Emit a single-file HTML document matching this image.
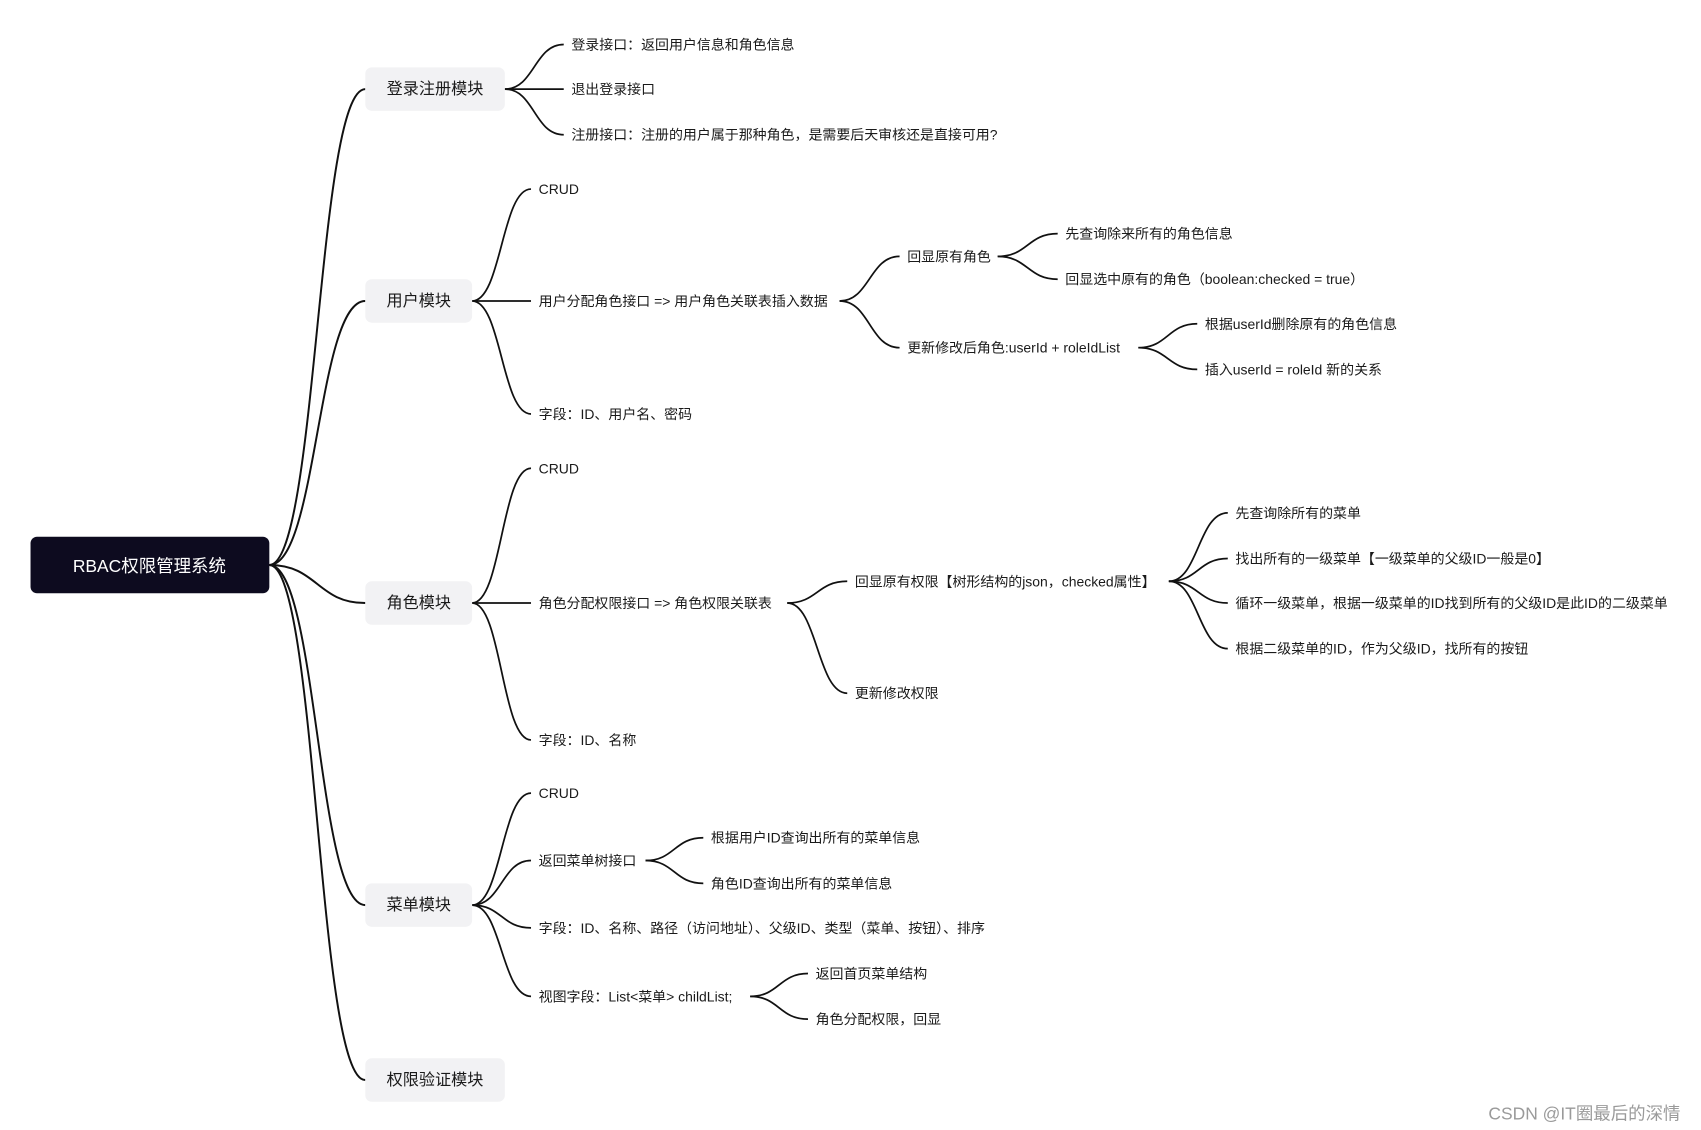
<!DOCTYPE html>
<html><head><meta charset="utf-8"><style>
html,body{margin:0;padding:0;background:#fff;}
svg{display:block;}
text{font-family:"Liberation Sans","Noto Sans CJK SC",sans-serif;fill:#1a1a1a;dominant-baseline:central;}
.l{font-size:12.8px;}
.m{font-size:14.8px;}
</style></head><body>
<svg width="1701" height="1130" viewBox="0 0 1560 1040" preserveAspectRatio="none" xmlns="http://www.w3.org/2000/svg">
<g id="edges" fill="none" stroke="#111" stroke-width="1.6"></g>
<rect x="28" y="494" width="219" height="52" rx="6" fill="#0d0b1f"/>
<text x="137" y="521" text-anchor="middle" style="font-size:16px;fill:#fff">RBAC权限管理系统</text>
<g fill="#f2f2f4">
<rect x="335" y="62" width="128" height="40" rx="6"/>
<rect x="335" y="257" width="98" height="40" rx="6"/>
<rect x="335" y="535" width="98" height="40" rx="6"/>
<rect x="335" y="813" width="98" height="40" rx="6"/>
<rect x="335" y="974" width="128" height="40" rx="6"/>
</g>
<text class="m" x="399" y="82" text-anchor="middle">登录注册模块</text>
<text class="m" x="384" y="277" text-anchor="middle">用户模块</text>
<text class="m" x="384" y="555" text-anchor="middle">角色模块</text>
<text class="m" x="384" y="833" text-anchor="middle">菜单模块</text>
<text class="m" x="399" y="994" text-anchor="middle">权限验证模块</text>

<text class="l" x="524" y="41">登录接口：返回用户信息和角色信息</text>
<text class="l" x="524" y="82">退出登录接口</text>
<text class="l" x="524" y="124">注册接口：注册的用户属于那种角色，是需要后天审核还是直接可用?</text>

<text class="l" x="494" y="174">CRUD</text>
<text class="l" x="494" y="277">用户分配角色接口 =&gt; 用户角色关联表插入数据</text>
<text class="l" x="494" y="381">字段：ID、用户名、密码</text>
<text class="l" x="832" y="236">回显原有角色</text>
<text class="l" x="832" y="320">更新修改后角色:userId  + roleIdList</text>
<text class="l" x="977" y="215">先查询除来所有的角色信息</text>
<text class="l" x="977" y="257">回显选中原有的角色（boolean:checked = true）</text>
<text class="l" x="1105" y="298">根据userId删除原有的角色信息</text>
<text class="l" x="1105" y="340">插入userId = roleId  新的关系</text>

<text class="l" x="494" y="431">CRUD</text>
<text class="l" x="494" y="555">角色分配权限接口  =&gt; 角色权限关联表</text>
<text class="l" x="494" y="681">字段：ID、名称</text>
<text class="l" x="784" y="535">回显原有权限【树形结构的json，checked属性】</text>
<text class="l" x="784" y="638">更新修改权限</text>
<text class="l" x="1133" y="472">先查询除所有的菜单</text>
<text class="l" x="1133" y="514">找出所有的一级菜单【一级菜单的父级ID一般是0】</text>
<text class="l" x="1133" y="555">循环一级菜单，根据一级菜单的ID找到所有的父级ID是此ID的二级菜单</text>
<text class="l" x="1133" y="597">根据二级菜单的ID，作为父级ID，找所有的按钮</text>

<text class="l" x="494" y="730">CRUD</text>
<text class="l" x="494" y="792">返回菜单树接口</text>
<text class="l" x="494" y="854">字段：ID、名称、路径（访问地址）、父级ID、类型（菜单、按钮）、排序</text>
<text class="l" x="494" y="917">视图字段：List&lt;菜单&gt; childList;</text>
<text class="l" x="652" y="771">根据用户ID查询出所有的菜单信息</text>
<text class="l" x="652" y="813">角色ID查询出所有的菜单信息</text>
<text class="l" x="748" y="896">返回首页菜单结构</text>
<text class="l" x="748" y="938">角色分配权限，回显</text>

<text x="1365" y="1025" style="font-size:16px;fill:#9a9a9a">CSDN @IT圈最后的深情</text>
</svg>
<script>
var g=document.getElementById('edges');
function e(x0,y0,x1,y1,w){
 var p=document.createElementNS('http://www.w3.org/2000/svg','path');
 var m=x0+(x1-x0)*0.5;
 p.setAttribute('d','M'+x0+' '+y0+' C'+m+' '+y0+' '+m+' '+y1+' '+x1+' '+y1);
 if(w)p.setAttribute('stroke-width',w);
 g.appendChild(p);
}
[82,277,555,833,994].forEach(function(y){e(247,520,335,y,1.8);});
[41,82,124].forEach(function(y){e(463,82,517,y);});
[174,277,381].forEach(function(y){e(433,277,487,y);});
[236,320].forEach(function(y){e(770,277,825,y);});
[215,257].forEach(function(y){e(915,236,970,y);});
[298,340].forEach(function(y){e(1044,320,1098,y);});
[431,555,681].forEach(function(y){e(433,555,487,y);});
[535,638].forEach(function(y){e(722,555,777,y);});
[472,514,555,597].forEach(function(y){e(1072,535,1126,y);});
[730,792,854,917].forEach(function(y){e(433,833,487,y);});
[771,813].forEach(function(y){e(592,792,645,y);});
[896,938].forEach(function(y){e(688,917,741,y);});
</script>
</body></html>
